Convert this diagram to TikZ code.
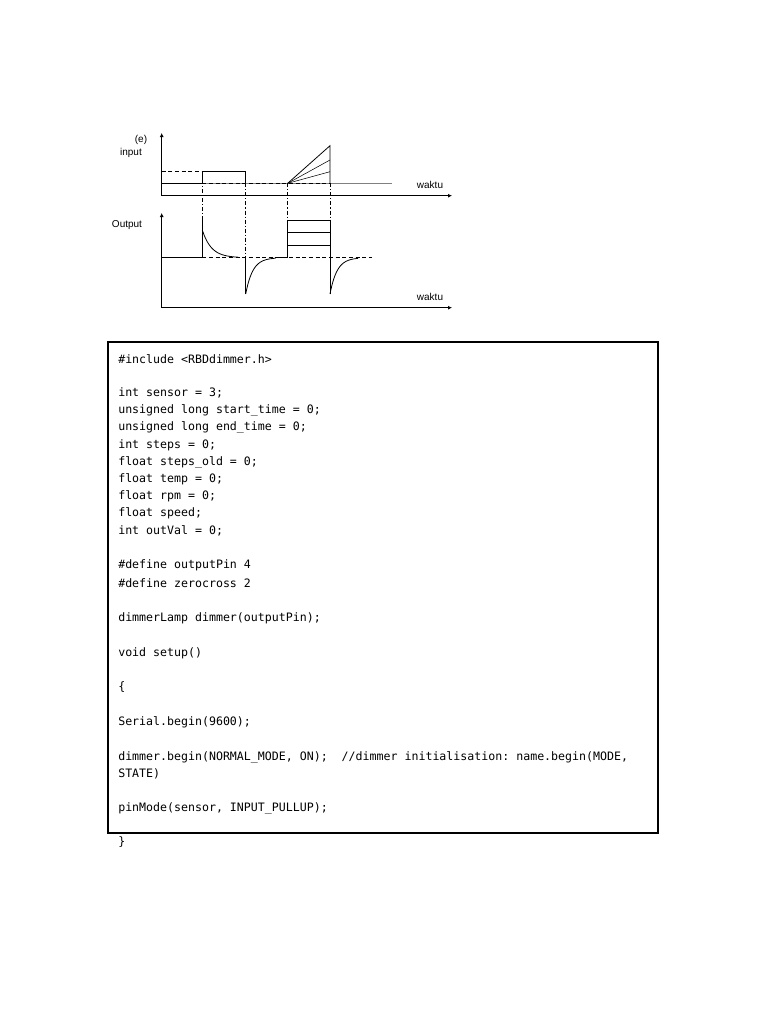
\documentclass[tikz,border=0pt]{standalone}
\usepackage{fontspec}
\setmainfont{Liberation Sans}
\setmonofont{DejaVu Sans Mono}
\tikzset{
 ax/.style={line width=0.6pt,-{Latex[length=3pt,width=3pt]}},
 sig/.style={line width=0.6pt},
 dsh/.style={line width=0.5pt,dash pattern=on 3pt off 2pt},
 dd/.style={line width=0.5pt,dash pattern=on 3pt off 1.5pt on 0.8pt off 1.5pt},
 lbl/.style={font=\fontsize{7.5}{9}\selectfont,inner sep=0pt},
 code/.style={anchor=west,inner sep=0pt,font=\ttfamily\fontsize{8.7}{10}\selectfont}
}
\usetikzlibrary{arrows.meta}
\begin{document}
\begin{tikzpicture}[x=0.75pt,y=-0.75pt]
\useasboundingbox (0,0) rectangle (768,1024);
% input chart
\draw[ax] (161.7,195.7) -- (161.7,133);
\draw[ax] (161.7,195.7) -- (452,195.7);
\draw[line width=0.4pt,gray] (161.7,183.3) -- (391.7,183.3);
\draw[dsh] (202.3,183.3) -- (330,183.3);
\draw[dsh] (161.7,171) -- (202.3,171);
\draw[sig] (161.7,183.3) -- (202.3,183.3) -- (202.3,171) -- (245.7,171) -- (245.7,183.3);
\draw[sig] (287.7,183.3) -- (330,145.7) -- (330,183.3);
\draw[line width=0.4pt] (287.7,183.3) -- (330,160);
\draw[line width=0.4pt] (287.7,183.3) -- (330,171.7);
\node[lbl] (e) at (141,140) {(e)};
\node[lbl] (in) at (131,153) {input};
\node[lbl] (w1) at (430,185) {waktu};
% output chart
\draw[ax] (161.7,307.7) -- (161.7,213);
\draw[ax] (161.7,307.7) -- (452,307.7);
\draw[dsh] (202.3,257.7) -- (371.7,257.7);
\draw[sig] (161.7,257.7) -- (202.3,257.7) -- (202.3,220);
\draw[sig] plot[domain=0:36,samples=30] ({202.3+\x},{257.7-27.7*exp(-\x/9)});
\draw[sig] (245.7,257.7) -- (245.7,294);
\draw[sig] plot[domain=0:30,samples=30] ({245.7+\x},{257.7+36.3*exp(-\x/7)});
\draw[sig] (275,257.7) -- (287.7,257.7) -- (287.7,220) -- (330,220) -- (330,294);
\draw[sig] (287.7,232.7) -- (330,232.7);
\draw[sig] (287.7,245) -- (330,245);
\draw[sig] plot[domain=0:28,samples=30] ({330+\x},{257.7+36.3*exp(-\x/7)});
\node[lbl] (out) at (127,225) {Output};
\node[lbl] (w2) at (430,297) {waktu};
% dash-dot guides
\draw[dd] (202.3,171) -- (202.3,220);
\draw[dd] (245.7,183.3) -- (245.7,294);
\draw[dd] (287.7,183.3) -- (287.7,220);
\draw[dd] (330,183.3) -- (330,220);
% code box
\draw[line width=2.2pt] (108,342) rectangle (658,833);
\node[code] (c1) at (118,359) {\#include <RBDdimmer.h>};
\node[code] (c2) at (118,393) {int sensor = 3;};
\node[code] (c3) at (118,410) {unsigned long start\_time = 0;};
\node[code] (c4) at (118,427) {unsigned long end\_time = 0;};
\node[code] (c5) at (118,445) {int steps = 0;};
\node[code] (c6) at (118,462) {float steps\_old = 0;};
\node[code] (c7) at (118,479) {float temp = 0;};
\node[code] (c8) at (118,496) {float rpm = 0;};
\node[code] (c9) at (118,513) {float speed;};
\node[code] (c10) at (118,531) {int outVal = 0;};
\node[code] (c11) at (118,565) {\#define outputPin 4};
\node[code] (c12) at (118,583) {\#define zerocross 2};
\node[code] (c13) at (118,618) {dimmerLamp dimmer(outputPin);};
\node[code] (c14) at (118,653) {void setup()};
\node[code] (c15) at (118,687) {\{};
\node[code] (c16) at (118,722) {Serial.begin(9600);};
\node[code] (c17) at (118,757) {dimmer.begin(NORMAL\_MODE, ON);\ \ //dimmer initialisation: name.begin(MODE,};
\node[code] (c18) at (118,774) {STATE)};
\node[code] (c19) at (118,808) {pinMode(sensor, INPUT\_PULLUP);};
\node[code] (c20) at (118,842) {\}};
\end{tikzpicture}
\end{document}
